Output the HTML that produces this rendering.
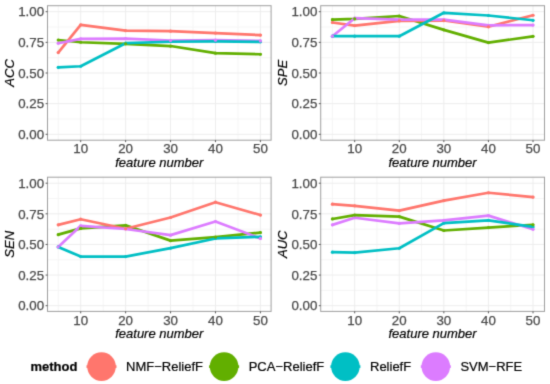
<!DOCTYPE html>
<html><head><meta charset="utf-8"><style>
html,body{margin:0;padding:0;background:#fff;}
svg{display:block;}
text{font-family:"Liberation Sans",Arial,sans-serif;}
.tk{font-size:13.3px;fill:#494949;stroke:#494949;stroke-width:0.25px;}
.ti{font-size:13px;font-style:italic;fill:#000;stroke:#000;stroke-width:0.2px;}
.lt{font-size:13px;fill:#000;stroke:#000;stroke-width:0.2px;}
</style></head><body>
<svg width="550" height="384" viewBox="0 0 550 384">
<defs><filter id="soft" x="0" y="0" width="550" height="384" filterUnits="userSpaceOnUse" color-interpolation-filters="sRGB"><feConvolveMatrix order="3" kernelMatrix="0.0192 0.1001 0.0192 0.1001 0.5228 0.1001 0.0192 0.1001 0.0192" edgeMode="duplicate"/></filter></defs>
<g filter="url(#soft)">
<rect width="550" height="384" fill="#fff"/>
<line x1="58.24" y1="5.70" x2="58.24" y2="140.20" stroke="#F4F4F4" stroke-width="0.9"/>
<line x1="103.16" y1="5.70" x2="103.16" y2="140.20" stroke="#F4F4F4" stroke-width="0.9"/>
<line x1="148.09" y1="5.70" x2="148.09" y2="140.20" stroke="#F4F4F4" stroke-width="0.9"/>
<line x1="193.01" y1="5.70" x2="193.01" y2="140.20" stroke="#F4F4F4" stroke-width="0.9"/>
<line x1="237.94" y1="5.70" x2="237.94" y2="140.20" stroke="#F4F4F4" stroke-width="0.9"/>
<line x1="47.50" y1="118.98" x2="271.10" y2="118.98" stroke="#F4F4F4" stroke-width="0.9"/>
<line x1="47.50" y1="88.33" x2="271.10" y2="88.33" stroke="#F4F4F4" stroke-width="0.9"/>
<line x1="47.50" y1="57.68" x2="271.10" y2="57.68" stroke="#F4F4F4" stroke-width="0.9"/>
<line x1="47.50" y1="27.03" x2="271.10" y2="27.03" stroke="#F4F4F4" stroke-width="0.9"/>
<line x1="80.70" y1="5.70" x2="80.70" y2="140.20" stroke="#EDEDED" stroke-width="1"/>
<line x1="125.62" y1="5.70" x2="125.62" y2="140.20" stroke="#EDEDED" stroke-width="1"/>
<line x1="170.55" y1="5.70" x2="170.55" y2="140.20" stroke="#EDEDED" stroke-width="1"/>
<line x1="215.47" y1="5.70" x2="215.47" y2="140.20" stroke="#EDEDED" stroke-width="1"/>
<line x1="260.40" y1="5.70" x2="260.40" y2="140.20" stroke="#EDEDED" stroke-width="1"/>
<line x1="47.50" y1="134.30" x2="271.10" y2="134.30" stroke="#EDEDED" stroke-width="1"/>
<line x1="47.50" y1="103.65" x2="271.10" y2="103.65" stroke="#EDEDED" stroke-width="1"/>
<line x1="47.50" y1="73.00" x2="271.10" y2="73.00" stroke="#EDEDED" stroke-width="1"/>
<line x1="47.50" y1="42.35" x2="271.10" y2="42.35" stroke="#EDEDED" stroke-width="1"/>
<line x1="47.50" y1="11.70" x2="271.10" y2="11.70" stroke="#EDEDED" stroke-width="1"/>
<polyline points="58.24,40.02 80.70,42.23 125.62,43.82 170.55,46.03 215.47,53.14 260.40,54.24" fill="none" stroke="#62AF00" stroke-width="2.7" stroke-linejoin="round" stroke-linecap="round"/>
<polyline points="58.24,52.53 80.70,24.82 125.62,30.70 170.55,31.19 215.47,33.03 260.40,35.12" fill="none" stroke="#FF766D" stroke-width="2.7" stroke-linejoin="round" stroke-linecap="round"/>
<polyline points="58.24,43.21 80.70,38.92 125.62,38.55 170.55,40.51 215.47,40.14 260.40,40.88" fill="none" stroke="#DC7CFF" stroke-width="2.7" stroke-linejoin="round" stroke-linecap="round"/>
<polyline points="58.24,67.36 80.70,66.26 125.62,43.21 170.55,41.74 215.47,41.37 260.40,41.86" fill="none" stroke="#00BFC4" stroke-width="2.7" stroke-linejoin="round" stroke-linecap="round"/>
<circle cx="58.24" cy="67.36" r="1.6" fill="#00BFC4"/>
<circle cx="80.70" cy="66.26" r="1.6" fill="#00BFC4"/>
<circle cx="125.62" cy="43.21" r="1.6" fill="#00BFC4"/>
<circle cx="170.55" cy="41.74" r="1.6" fill="#00BFC4"/>
<circle cx="215.47" cy="41.37" r="1.6" fill="#00BFC4"/>
<circle cx="260.40" cy="41.86" r="1.6" fill="#00BFC4"/>
<circle cx="58.24" cy="43.21" r="1.6" fill="#DC7CFF"/>
<circle cx="80.70" cy="38.92" r="1.6" fill="#DC7CFF"/>
<circle cx="125.62" cy="38.55" r="1.6" fill="#DC7CFF"/>
<circle cx="170.55" cy="40.51" r="1.6" fill="#DC7CFF"/>
<circle cx="215.47" cy="40.14" r="1.6" fill="#DC7CFF"/>
<circle cx="260.40" cy="40.88" r="1.6" fill="#DC7CFF"/>
<circle cx="58.24" cy="40.02" r="1.6" fill="#62AF00"/>
<circle cx="80.70" cy="42.23" r="1.6" fill="#62AF00"/>
<circle cx="125.62" cy="43.82" r="1.6" fill="#62AF00"/>
<circle cx="170.55" cy="46.03" r="1.6" fill="#62AF00"/>
<circle cx="215.47" cy="53.14" r="1.6" fill="#62AF00"/>
<circle cx="260.40" cy="54.24" r="1.6" fill="#62AF00"/>
<circle cx="58.24" cy="52.53" r="1.6" fill="#FF766D"/>
<circle cx="80.70" cy="24.82" r="1.6" fill="#FF766D"/>
<circle cx="125.62" cy="30.70" r="1.6" fill="#FF766D"/>
<circle cx="170.55" cy="31.19" r="1.6" fill="#FF766D"/>
<circle cx="215.47" cy="33.03" r="1.6" fill="#FF766D"/>
<circle cx="260.40" cy="35.12" r="1.6" fill="#FF766D"/>
<rect x="47.50" y="5.70" width="223.60" height="134.50" fill="none" stroke="#9E9E9E" stroke-width="1.0"/>
<line x1="45.60" y1="134.30" x2="47.50" y2="134.30" stroke="#555555" stroke-width="1"/>
<text x="44.10" y="139.00" text-anchor="end" class="tk">0.00</text>
<line x1="45.60" y1="103.65" x2="47.50" y2="103.65" stroke="#555555" stroke-width="1"/>
<text x="44.10" y="108.35" text-anchor="end" class="tk">0.25</text>
<line x1="45.60" y1="73.00" x2="47.50" y2="73.00" stroke="#555555" stroke-width="1"/>
<text x="44.10" y="77.70" text-anchor="end" class="tk">0.50</text>
<line x1="45.60" y1="42.35" x2="47.50" y2="42.35" stroke="#555555" stroke-width="1"/>
<text x="44.10" y="47.05" text-anchor="end" class="tk">0.75</text>
<line x1="45.60" y1="11.70" x2="47.50" y2="11.70" stroke="#555555" stroke-width="1"/>
<text x="44.10" y="16.40" text-anchor="end" class="tk">1.00</text>
<line x1="80.70" y1="140.20" x2="80.70" y2="142.10" stroke="#555555" stroke-width="1"/>
<text x="80.70" y="153.30" text-anchor="middle" class="tk">10</text>
<line x1="125.62" y1="140.20" x2="125.62" y2="142.10" stroke="#555555" stroke-width="1"/>
<text x="125.62" y="153.30" text-anchor="middle" class="tk">20</text>
<line x1="170.55" y1="140.20" x2="170.55" y2="142.10" stroke="#555555" stroke-width="1"/>
<text x="170.55" y="153.30" text-anchor="middle" class="tk">30</text>
<line x1="215.47" y1="140.20" x2="215.47" y2="142.10" stroke="#555555" stroke-width="1"/>
<text x="215.47" y="153.30" text-anchor="middle" class="tk">40</text>
<line x1="260.40" y1="140.20" x2="260.40" y2="142.10" stroke="#555555" stroke-width="1"/>
<text x="260.40" y="153.30" text-anchor="middle" class="tk">50</text>
<text x="159.30" y="166.50" text-anchor="middle" class="ti">feature number</text>
<text transform="translate(14.20,72.95) rotate(-90)" x="0" y="0" text-anchor="middle" class="ti">ACC</text>
<line x1="332.41" y1="5.70" x2="332.41" y2="140.20" stroke="#F4F4F4" stroke-width="0.9"/>
<line x1="376.99" y1="5.70" x2="376.99" y2="140.20" stroke="#F4F4F4" stroke-width="0.9"/>
<line x1="421.56" y1="5.70" x2="421.56" y2="140.20" stroke="#F4F4F4" stroke-width="0.9"/>
<line x1="466.14" y1="5.70" x2="466.14" y2="140.20" stroke="#F4F4F4" stroke-width="0.9"/>
<line x1="510.71" y1="5.70" x2="510.71" y2="140.20" stroke="#F4F4F4" stroke-width="0.9"/>
<line x1="320.70" y1="118.98" x2="544.50" y2="118.98" stroke="#F4F4F4" stroke-width="0.9"/>
<line x1="320.70" y1="88.33" x2="544.50" y2="88.33" stroke="#F4F4F4" stroke-width="0.9"/>
<line x1="320.70" y1="57.68" x2="544.50" y2="57.68" stroke="#F4F4F4" stroke-width="0.9"/>
<line x1="320.70" y1="27.03" x2="544.50" y2="27.03" stroke="#F4F4F4" stroke-width="0.9"/>
<line x1="354.70" y1="5.70" x2="354.70" y2="140.20" stroke="#EDEDED" stroke-width="1"/>
<line x1="399.27" y1="5.70" x2="399.27" y2="140.20" stroke="#EDEDED" stroke-width="1"/>
<line x1="443.85" y1="5.70" x2="443.85" y2="140.20" stroke="#EDEDED" stroke-width="1"/>
<line x1="488.43" y1="5.70" x2="488.43" y2="140.20" stroke="#EDEDED" stroke-width="1"/>
<line x1="533.00" y1="5.70" x2="533.00" y2="140.20" stroke="#EDEDED" stroke-width="1"/>
<line x1="320.70" y1="134.30" x2="544.50" y2="134.30" stroke="#EDEDED" stroke-width="1"/>
<line x1="320.70" y1="103.65" x2="544.50" y2="103.65" stroke="#EDEDED" stroke-width="1"/>
<line x1="320.70" y1="73.00" x2="544.50" y2="73.00" stroke="#EDEDED" stroke-width="1"/>
<line x1="320.70" y1="42.35" x2="544.50" y2="42.35" stroke="#EDEDED" stroke-width="1"/>
<line x1="320.70" y1="11.70" x2="544.50" y2="11.70" stroke="#EDEDED" stroke-width="1"/>
<polyline points="332.41,19.67 354.70,18.81 399.27,15.99 443.85,29.84 488.43,42.60 533.00,36.34" fill="none" stroke="#62AF00" stroke-width="2.7" stroke-linejoin="round" stroke-linecap="round"/>
<polyline points="332.41,22.49 354.70,25.55 399.27,20.89 443.85,20.53 488.43,26.78 533.00,15.26" fill="none" stroke="#FF766D" stroke-width="2.7" stroke-linejoin="round" stroke-linecap="round"/>
<polyline points="332.41,36.22 354.70,18.20 399.27,19.67 443.85,19.67 488.43,25.31 533.00,25.06" fill="none" stroke="#DC7CFF" stroke-width="2.7" stroke-linejoin="round" stroke-linecap="round"/>
<polyline points="332.41,36.22 354.70,36.22 399.27,36.22 443.85,12.80 488.43,15.50 533.00,20.28" fill="none" stroke="#00BFC4" stroke-width="2.7" stroke-linejoin="round" stroke-linecap="round"/>
<circle cx="332.41" cy="36.22" r="1.6" fill="#00BFC4"/>
<circle cx="354.70" cy="36.22" r="1.6" fill="#00BFC4"/>
<circle cx="399.27" cy="36.22" r="1.6" fill="#00BFC4"/>
<circle cx="443.85" cy="12.80" r="1.6" fill="#00BFC4"/>
<circle cx="488.43" cy="15.50" r="1.6" fill="#00BFC4"/>
<circle cx="533.00" cy="20.28" r="1.6" fill="#00BFC4"/>
<circle cx="332.41" cy="36.22" r="1.6" fill="#DC7CFF"/>
<circle cx="354.70" cy="18.20" r="1.6" fill="#DC7CFF"/>
<circle cx="399.27" cy="19.67" r="1.6" fill="#DC7CFF"/>
<circle cx="443.85" cy="19.67" r="1.6" fill="#DC7CFF"/>
<circle cx="488.43" cy="25.31" r="1.6" fill="#DC7CFF"/>
<circle cx="533.00" cy="25.06" r="1.6" fill="#DC7CFF"/>
<circle cx="332.41" cy="19.67" r="1.6" fill="#62AF00"/>
<circle cx="354.70" cy="18.81" r="1.6" fill="#62AF00"/>
<circle cx="399.27" cy="15.99" r="1.6" fill="#62AF00"/>
<circle cx="443.85" cy="29.84" r="1.6" fill="#62AF00"/>
<circle cx="488.43" cy="42.60" r="1.6" fill="#62AF00"/>
<circle cx="533.00" cy="36.34" r="1.6" fill="#62AF00"/>
<circle cx="332.41" cy="22.49" r="1.6" fill="#FF766D"/>
<circle cx="354.70" cy="25.55" r="1.6" fill="#FF766D"/>
<circle cx="399.27" cy="20.89" r="1.6" fill="#FF766D"/>
<circle cx="443.85" cy="20.53" r="1.6" fill="#FF766D"/>
<circle cx="488.43" cy="26.78" r="1.6" fill="#FF766D"/>
<circle cx="533.00" cy="15.26" r="1.6" fill="#FF766D"/>
<rect x="320.70" y="5.70" width="223.80" height="134.50" fill="none" stroke="#9E9E9E" stroke-width="1.0"/>
<line x1="318.80" y1="134.30" x2="320.70" y2="134.30" stroke="#555555" stroke-width="1"/>
<text x="317.30" y="139.00" text-anchor="end" class="tk">0.00</text>
<line x1="318.80" y1="103.65" x2="320.70" y2="103.65" stroke="#555555" stroke-width="1"/>
<text x="317.30" y="108.35" text-anchor="end" class="tk">0.25</text>
<line x1="318.80" y1="73.00" x2="320.70" y2="73.00" stroke="#555555" stroke-width="1"/>
<text x="317.30" y="77.70" text-anchor="end" class="tk">0.50</text>
<line x1="318.80" y1="42.35" x2="320.70" y2="42.35" stroke="#555555" stroke-width="1"/>
<text x="317.30" y="47.05" text-anchor="end" class="tk">0.75</text>
<line x1="318.80" y1="11.70" x2="320.70" y2="11.70" stroke="#555555" stroke-width="1"/>
<text x="317.30" y="16.40" text-anchor="end" class="tk">1.00</text>
<line x1="354.70" y1="140.20" x2="354.70" y2="142.10" stroke="#555555" stroke-width="1"/>
<text x="354.70" y="153.30" text-anchor="middle" class="tk">10</text>
<line x1="399.27" y1="140.20" x2="399.27" y2="142.10" stroke="#555555" stroke-width="1"/>
<text x="399.27" y="153.30" text-anchor="middle" class="tk">20</text>
<line x1="443.85" y1="140.20" x2="443.85" y2="142.10" stroke="#555555" stroke-width="1"/>
<text x="443.85" y="153.30" text-anchor="middle" class="tk">30</text>
<line x1="488.43" y1="140.20" x2="488.43" y2="142.10" stroke="#555555" stroke-width="1"/>
<text x="488.43" y="153.30" text-anchor="middle" class="tk">40</text>
<line x1="533.00" y1="140.20" x2="533.00" y2="142.10" stroke="#555555" stroke-width="1"/>
<text x="533.00" y="153.30" text-anchor="middle" class="tk">50</text>
<text x="432.60" y="166.50" text-anchor="middle" class="ti">feature number</text>
<text transform="translate(287.40,72.95) rotate(-90)" x="0" y="0" text-anchor="middle" class="ti">SPE</text>
<line x1="58.24" y1="177.20" x2="58.24" y2="311.40" stroke="#F4F4F4" stroke-width="0.9"/>
<line x1="103.16" y1="177.20" x2="103.16" y2="311.40" stroke="#F4F4F4" stroke-width="0.9"/>
<line x1="148.09" y1="177.20" x2="148.09" y2="311.40" stroke="#F4F4F4" stroke-width="0.9"/>
<line x1="193.01" y1="177.20" x2="193.01" y2="311.40" stroke="#F4F4F4" stroke-width="0.9"/>
<line x1="237.94" y1="177.20" x2="237.94" y2="311.40" stroke="#F4F4F4" stroke-width="0.9"/>
<line x1="47.50" y1="290.39" x2="271.10" y2="290.39" stroke="#F4F4F4" stroke-width="0.9"/>
<line x1="47.50" y1="259.76" x2="271.10" y2="259.76" stroke="#F4F4F4" stroke-width="0.9"/>
<line x1="47.50" y1="229.14" x2="271.10" y2="229.14" stroke="#F4F4F4" stroke-width="0.9"/>
<line x1="47.50" y1="198.51" x2="271.10" y2="198.51" stroke="#F4F4F4" stroke-width="0.9"/>
<line x1="80.70" y1="177.20" x2="80.70" y2="311.40" stroke="#EDEDED" stroke-width="1"/>
<line x1="125.62" y1="177.20" x2="125.62" y2="311.40" stroke="#EDEDED" stroke-width="1"/>
<line x1="170.55" y1="177.20" x2="170.55" y2="311.40" stroke="#EDEDED" stroke-width="1"/>
<line x1="215.47" y1="177.20" x2="215.47" y2="311.40" stroke="#EDEDED" stroke-width="1"/>
<line x1="260.40" y1="177.20" x2="260.40" y2="311.40" stroke="#EDEDED" stroke-width="1"/>
<line x1="47.50" y1="305.70" x2="271.10" y2="305.70" stroke="#EDEDED" stroke-width="1"/>
<line x1="47.50" y1="275.07" x2="271.10" y2="275.07" stroke="#EDEDED" stroke-width="1"/>
<line x1="47.50" y1="244.45" x2="271.10" y2="244.45" stroke="#EDEDED" stroke-width="1"/>
<line x1="47.50" y1="213.82" x2="271.10" y2="213.82" stroke="#EDEDED" stroke-width="1"/>
<line x1="47.50" y1="183.20" x2="271.10" y2="183.20" stroke="#EDEDED" stroke-width="1"/>
<polyline points="58.24,234.65 80.70,228.40 125.62,225.34 170.55,240.65 215.47,237.10 260.40,232.57" fill="none" stroke="#62AF00" stroke-width="2.7" stroke-linejoin="round" stroke-linecap="round"/>
<polyline points="58.24,224.85 80.70,219.21 125.62,228.77 170.55,217.50 215.47,202.19 260.40,215.05" fill="none" stroke="#FF766D" stroke-width="2.7" stroke-linejoin="round" stroke-linecap="round"/>
<polyline points="58.24,246.90 80.70,225.83 125.62,229.01 170.55,235.14 215.47,221.54 260.40,238.45" fill="none" stroke="#DC7CFF" stroke-width="2.7" stroke-linejoin="round" stroke-linecap="round"/>
<polyline points="58.24,246.90 80.70,256.58 125.62,256.58 170.55,248.12 215.47,238.45 260.40,236.85" fill="none" stroke="#00BFC4" stroke-width="2.7" stroke-linejoin="round" stroke-linecap="round"/>
<circle cx="58.24" cy="246.90" r="1.6" fill="#00BFC4"/>
<circle cx="80.70" cy="256.58" r="1.6" fill="#00BFC4"/>
<circle cx="125.62" cy="256.58" r="1.6" fill="#00BFC4"/>
<circle cx="170.55" cy="248.12" r="1.6" fill="#00BFC4"/>
<circle cx="215.47" cy="238.45" r="1.6" fill="#00BFC4"/>
<circle cx="260.40" cy="236.85" r="1.6" fill="#00BFC4"/>
<circle cx="58.24" cy="246.90" r="1.6" fill="#DC7CFF"/>
<circle cx="80.70" cy="225.83" r="1.6" fill="#DC7CFF"/>
<circle cx="125.62" cy="229.01" r="1.6" fill="#DC7CFF"/>
<circle cx="170.55" cy="235.14" r="1.6" fill="#DC7CFF"/>
<circle cx="215.47" cy="221.54" r="1.6" fill="#DC7CFF"/>
<circle cx="260.40" cy="238.45" r="1.6" fill="#DC7CFF"/>
<circle cx="58.24" cy="234.65" r="1.6" fill="#62AF00"/>
<circle cx="80.70" cy="228.40" r="1.6" fill="#62AF00"/>
<circle cx="125.62" cy="225.34" r="1.6" fill="#62AF00"/>
<circle cx="170.55" cy="240.65" r="1.6" fill="#62AF00"/>
<circle cx="215.47" cy="237.10" r="1.6" fill="#62AF00"/>
<circle cx="260.40" cy="232.57" r="1.6" fill="#62AF00"/>
<circle cx="58.24" cy="224.85" r="1.6" fill="#FF766D"/>
<circle cx="80.70" cy="219.21" r="1.6" fill="#FF766D"/>
<circle cx="125.62" cy="228.77" r="1.6" fill="#FF766D"/>
<circle cx="170.55" cy="217.50" r="1.6" fill="#FF766D"/>
<circle cx="215.47" cy="202.19" r="1.6" fill="#FF766D"/>
<circle cx="260.40" cy="215.05" r="1.6" fill="#FF766D"/>
<rect x="47.50" y="177.20" width="223.60" height="134.20" fill="none" stroke="#9E9E9E" stroke-width="1.0"/>
<line x1="45.60" y1="305.70" x2="47.50" y2="305.70" stroke="#555555" stroke-width="1"/>
<text x="44.10" y="310.40" text-anchor="end" class="tk">0.00</text>
<line x1="45.60" y1="275.07" x2="47.50" y2="275.07" stroke="#555555" stroke-width="1"/>
<text x="44.10" y="279.77" text-anchor="end" class="tk">0.25</text>
<line x1="45.60" y1="244.45" x2="47.50" y2="244.45" stroke="#555555" stroke-width="1"/>
<text x="44.10" y="249.15" text-anchor="end" class="tk">0.50</text>
<line x1="45.60" y1="213.82" x2="47.50" y2="213.82" stroke="#555555" stroke-width="1"/>
<text x="44.10" y="218.52" text-anchor="end" class="tk">0.75</text>
<line x1="45.60" y1="183.20" x2="47.50" y2="183.20" stroke="#555555" stroke-width="1"/>
<text x="44.10" y="187.90" text-anchor="end" class="tk">1.00</text>
<line x1="80.70" y1="311.40" x2="80.70" y2="313.30" stroke="#555555" stroke-width="1"/>
<text x="80.70" y="324.50" text-anchor="middle" class="tk">10</text>
<line x1="125.62" y1="311.40" x2="125.62" y2="313.30" stroke="#555555" stroke-width="1"/>
<text x="125.62" y="324.50" text-anchor="middle" class="tk">20</text>
<line x1="170.55" y1="311.40" x2="170.55" y2="313.30" stroke="#555555" stroke-width="1"/>
<text x="170.55" y="324.50" text-anchor="middle" class="tk">30</text>
<line x1="215.47" y1="311.40" x2="215.47" y2="313.30" stroke="#555555" stroke-width="1"/>
<text x="215.47" y="324.50" text-anchor="middle" class="tk">40</text>
<line x1="260.40" y1="311.40" x2="260.40" y2="313.30" stroke="#555555" stroke-width="1"/>
<text x="260.40" y="324.50" text-anchor="middle" class="tk">50</text>
<text x="159.30" y="337.70" text-anchor="middle" class="ti">feature number</text>
<text transform="translate(14.20,244.30) rotate(-90)" x="0" y="0" text-anchor="middle" class="ti">SEN</text>
<line x1="332.41" y1="177.20" x2="332.41" y2="311.40" stroke="#F4F4F4" stroke-width="0.9"/>
<line x1="376.99" y1="177.20" x2="376.99" y2="311.40" stroke="#F4F4F4" stroke-width="0.9"/>
<line x1="421.56" y1="177.20" x2="421.56" y2="311.40" stroke="#F4F4F4" stroke-width="0.9"/>
<line x1="466.14" y1="177.20" x2="466.14" y2="311.40" stroke="#F4F4F4" stroke-width="0.9"/>
<line x1="510.71" y1="177.20" x2="510.71" y2="311.40" stroke="#F4F4F4" stroke-width="0.9"/>
<line x1="320.70" y1="290.39" x2="544.50" y2="290.39" stroke="#F4F4F4" stroke-width="0.9"/>
<line x1="320.70" y1="259.76" x2="544.50" y2="259.76" stroke="#F4F4F4" stroke-width="0.9"/>
<line x1="320.70" y1="229.14" x2="544.50" y2="229.14" stroke="#F4F4F4" stroke-width="0.9"/>
<line x1="320.70" y1="198.51" x2="544.50" y2="198.51" stroke="#F4F4F4" stroke-width="0.9"/>
<line x1="354.70" y1="177.20" x2="354.70" y2="311.40" stroke="#EDEDED" stroke-width="1"/>
<line x1="399.27" y1="177.20" x2="399.27" y2="311.40" stroke="#EDEDED" stroke-width="1"/>
<line x1="443.85" y1="177.20" x2="443.85" y2="311.40" stroke="#EDEDED" stroke-width="1"/>
<line x1="488.43" y1="177.20" x2="488.43" y2="311.40" stroke="#EDEDED" stroke-width="1"/>
<line x1="533.00" y1="177.20" x2="533.00" y2="311.40" stroke="#EDEDED" stroke-width="1"/>
<line x1="320.70" y1="305.70" x2="544.50" y2="305.70" stroke="#EDEDED" stroke-width="1"/>
<line x1="320.70" y1="275.07" x2="544.50" y2="275.07" stroke="#EDEDED" stroke-width="1"/>
<line x1="320.70" y1="244.45" x2="544.50" y2="244.45" stroke="#EDEDED" stroke-width="1"/>
<line x1="320.70" y1="213.82" x2="544.50" y2="213.82" stroke="#EDEDED" stroke-width="1"/>
<line x1="320.70" y1="183.20" x2="544.50" y2="183.20" stroke="#EDEDED" stroke-width="1"/>
<polyline points="332.41,218.97 354.70,215.05 399.27,216.64 443.85,230.48 488.43,227.54 533.00,224.73" fill="none" stroke="#62AF00" stroke-width="2.7" stroke-linejoin="round" stroke-linecap="round"/>
<polyline points="332.41,204.15 354.70,205.86 399.27,210.64 443.85,200.59 488.43,192.75 533.00,197.04" fill="none" stroke="#FF766D" stroke-width="2.7" stroke-linejoin="round" stroke-linecap="round"/>
<polyline points="332.41,224.85 354.70,217.75 399.27,223.38 443.85,220.44 488.43,215.66 533.00,229.26" fill="none" stroke="#DC7CFF" stroke-width="2.7" stroke-linejoin="round" stroke-linecap="round"/>
<polyline points="332.41,252.17 354.70,252.66 399.27,248.25 443.85,223.13 488.43,220.44 533.00,226.93" fill="none" stroke="#00BFC4" stroke-width="2.7" stroke-linejoin="round" stroke-linecap="round"/>
<circle cx="332.41" cy="252.17" r="1.6" fill="#00BFC4"/>
<circle cx="354.70" cy="252.66" r="1.6" fill="#00BFC4"/>
<circle cx="399.27" cy="248.25" r="1.6" fill="#00BFC4"/>
<circle cx="443.85" cy="223.13" r="1.6" fill="#00BFC4"/>
<circle cx="488.43" cy="220.44" r="1.6" fill="#00BFC4"/>
<circle cx="533.00" cy="226.93" r="1.6" fill="#00BFC4"/>
<circle cx="332.41" cy="224.85" r="1.6" fill="#DC7CFF"/>
<circle cx="354.70" cy="217.75" r="1.6" fill="#DC7CFF"/>
<circle cx="399.27" cy="223.38" r="1.6" fill="#DC7CFF"/>
<circle cx="443.85" cy="220.44" r="1.6" fill="#DC7CFF"/>
<circle cx="488.43" cy="215.66" r="1.6" fill="#DC7CFF"/>
<circle cx="533.00" cy="229.26" r="1.6" fill="#DC7CFF"/>
<circle cx="332.41" cy="218.97" r="1.6" fill="#62AF00"/>
<circle cx="354.70" cy="215.05" r="1.6" fill="#62AF00"/>
<circle cx="399.27" cy="216.64" r="1.6" fill="#62AF00"/>
<circle cx="443.85" cy="230.48" r="1.6" fill="#62AF00"/>
<circle cx="488.43" cy="227.54" r="1.6" fill="#62AF00"/>
<circle cx="533.00" cy="224.73" r="1.6" fill="#62AF00"/>
<circle cx="332.41" cy="204.15" r="1.6" fill="#FF766D"/>
<circle cx="354.70" cy="205.86" r="1.6" fill="#FF766D"/>
<circle cx="399.27" cy="210.64" r="1.6" fill="#FF766D"/>
<circle cx="443.85" cy="200.59" r="1.6" fill="#FF766D"/>
<circle cx="488.43" cy="192.75" r="1.6" fill="#FF766D"/>
<circle cx="533.00" cy="197.04" r="1.6" fill="#FF766D"/>
<rect x="320.70" y="177.20" width="223.80" height="134.20" fill="none" stroke="#9E9E9E" stroke-width="1.0"/>
<line x1="318.80" y1="305.70" x2="320.70" y2="305.70" stroke="#555555" stroke-width="1"/>
<text x="317.30" y="310.40" text-anchor="end" class="tk">0.00</text>
<line x1="318.80" y1="275.07" x2="320.70" y2="275.07" stroke="#555555" stroke-width="1"/>
<text x="317.30" y="279.77" text-anchor="end" class="tk">0.25</text>
<line x1="318.80" y1="244.45" x2="320.70" y2="244.45" stroke="#555555" stroke-width="1"/>
<text x="317.30" y="249.15" text-anchor="end" class="tk">0.50</text>
<line x1="318.80" y1="213.82" x2="320.70" y2="213.82" stroke="#555555" stroke-width="1"/>
<text x="317.30" y="218.52" text-anchor="end" class="tk">0.75</text>
<line x1="318.80" y1="183.20" x2="320.70" y2="183.20" stroke="#555555" stroke-width="1"/>
<text x="317.30" y="187.90" text-anchor="end" class="tk">1.00</text>
<line x1="354.70" y1="311.40" x2="354.70" y2="313.30" stroke="#555555" stroke-width="1"/>
<text x="354.70" y="324.50" text-anchor="middle" class="tk">10</text>
<line x1="399.27" y1="311.40" x2="399.27" y2="313.30" stroke="#555555" stroke-width="1"/>
<text x="399.27" y="324.50" text-anchor="middle" class="tk">20</text>
<line x1="443.85" y1="311.40" x2="443.85" y2="313.30" stroke="#555555" stroke-width="1"/>
<text x="443.85" y="324.50" text-anchor="middle" class="tk">30</text>
<line x1="488.43" y1="311.40" x2="488.43" y2="313.30" stroke="#555555" stroke-width="1"/>
<text x="488.43" y="324.50" text-anchor="middle" class="tk">40</text>
<line x1="533.00" y1="311.40" x2="533.00" y2="313.30" stroke="#555555" stroke-width="1"/>
<text x="533.00" y="324.50" text-anchor="middle" class="tk">50</text>
<text x="432.60" y="337.70" text-anchor="middle" class="ti">feature number</text>
<text transform="translate(287.40,244.30) rotate(-90)" x="0" y="0" text-anchor="middle" class="ti">AUC</text>
<text x="30.5" y="371.2" class="lt" font-weight="bold">method</text>
<line x1="86.50" y1="366.6" x2="116.50" y2="366.6" stroke="#FF766D" stroke-width="2.7"/>
<circle cx="101.50" cy="366.6" r="14.3" fill="#FF766D"/>
<text x="126.10" y="371.2" class="lt">NMF−ReliefF</text>
<line x1="209.10" y1="366.6" x2="239.10" y2="366.6" stroke="#62AF00" stroke-width="2.7"/>
<circle cx="224.10" cy="366.6" r="14.3" fill="#62AF00"/>
<text x="248.70" y="371.2" class="lt">PCA−ReliefF</text>
<line x1="330.40" y1="366.6" x2="360.40" y2="366.6" stroke="#00BFC4" stroke-width="2.7"/>
<circle cx="345.40" cy="366.6" r="14.3" fill="#00BFC4"/>
<text x="370.00" y="371.2" class="lt">ReliefF</text>
<line x1="420.80" y1="366.6" x2="450.80" y2="366.6" stroke="#DC7CFF" stroke-width="2.7"/>
<circle cx="435.80" cy="366.6" r="14.3" fill="#DC7CFF"/>
<text x="460.40" y="371.2" class="lt">SVM−RFE</text>
</g>
</svg>
</body></html>
